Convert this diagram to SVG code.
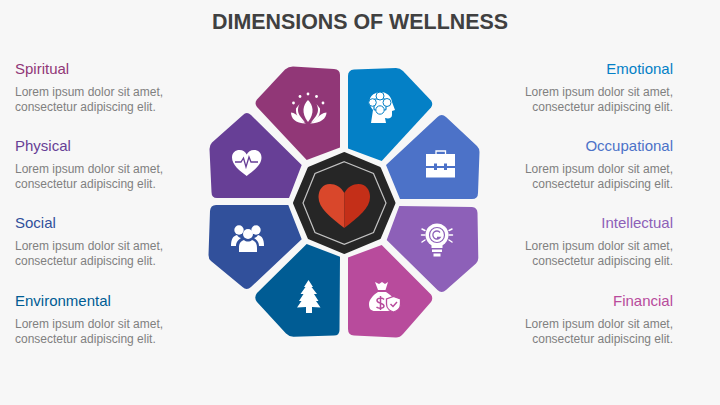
<svg xmlns="http://www.w3.org/2000/svg" width="720" height="405" viewBox="0 0 720 405">
<style>
text{font-family:"Liberation Sans",Arial,sans-serif}
.t{font-size:21.400px;font-weight:700;fill:#404040;text-anchor:middle}
.h{font-size:15px}
.b{font-size:12px;fill:#808080}
.r{text-anchor:end}
.w{fill:#fff}
.l{fill:none;stroke:#fff;stroke-linecap:round}
</style>
<rect width="720" height="405" fill="#f7f7f7"/>
<text class="t" x="360" y="29">DIMENSIONS OF WELLNESS</text>
<g id="connectors"/>
<g id="spiritual">
<path fill="#913777" d="M293 66.500L334 69Q340 69.500 340 75L340 147.500L306.700 160L257 107Q254 103 257 99.500L285 69.500Q288.500 66.500 293 66.500Z"/>
<g class="w"><path d="M308 100C303 105 301 113 308 122C315 113 313 105 308 100Z"/><path d="M299.500 104C297 109 298 113 300 116L305 122.500C298 120 295.500 114 296 108.500Z"/><path d="M316.500 104C319 109 318 113 316 116L311 122.500C318 120 320.500 114 320 108.500Z"/><path d="M291 112.500C291 118 295 123.500 306 123.500C301 122 298 113 291 112.500Z"/><path d="M326.500 112.500C326.500 118 321 123.500 310 123.500C315 122 319 113 326.500 112.500Z"/><circle cx="308" cy="94" r="1.400"/><circle cx="300" cy="96.500" r="1.400"/><circle cx="316.500" cy="96.500" r="1.400"/><circle cx="293.500" cy="103" r="1.400"/><circle cx="323" cy="103" r="1.400"/></g>
<text class="h" x="15" y="74" fill="#913777">Spiritual</text>
<text class="b" x="15" y="96">Lorem ipsum dolor sit amet,</text>
<text class="b" x="15" y="111">consectetur adipiscing elit.</text>
</g>
<g id="physical">
<path fill="#673f96" d="M243 115Q246.700 111 251 115L301.700 165L289 198L217 198Q211.500 198 211.500 192L209.500 149Q209.500 145 212 142.500Z"/>
<path class="w" d="M246.700 176C240 171 232 165 232 157.500C232 152.500 235.500 150 239.500 150C243 150 245.500 152 246.700 154.500C248 152 250.500 150 254 150C258 150 261.500 152.500 261.500 157.500C261.500 165 253.500 171 246.700 176Z"/>
<path fill="none" stroke="#673f96" stroke-width="1.300" d="M235 162H241L243.500 158L246 167L249 157L251 162H258"/>
<text class="h" x="15" y="151" fill="#673f96">Physical</text>
<text class="b" x="15" y="173">Lorem ipsum dolor sit amet,</text>
<text class="b" x="15" y="188">consectetur adipiscing elit.</text>
</g>
<g id="social">
<path fill="#31509b" d="M216 205L288.300 205L301.700 239.300L251 287Q246.700 291 242.500 287L211 261Q208.500 259 208.500 255L210 211Q210.500 205 216 205Z"/>
<g class="w"><circle cx="239" cy="230" r="4.700"/><circle cx="256" cy="230" r="4.700"/><path d="M231 246C231 239 233 236 237 235C238 237 240 238 241 238C237 241 236 243 236 246Z"/><path d="M264 246C264 239 262 236 258 235C257 237 255 238 254 238C258 241 259 243 259 246Z"/><circle cx="248" cy="234" r="5"/><path d="M239 252V248C239 243 241 241 244 240C246 242 250 242 252 240C255 241 257 243 257 248V252Z"/></g>
<text class="h" x="15" y="228" fill="#31509b">Social</text>
<text class="b" x="15" y="250">Lorem ipsum dolor sit amet,</text>
<text class="b" x="15" y="265">consectetur adipiscing elit.</text>
</g>
<g id="environmental">
<path fill="#005c94" d="M306.700 244L340 256.700L339.500 330Q339.500 335.500 334 335.500L294 336.700Q289.500 337 286 333.500L257 302Q253.500 297.500 257 293Z"/>
<path class="w" d="M308.500 280L313 287H311.500L317 294H314L318.500 301H316L320.500 307.500L312 307V313H306V307L297 307.500L301.500 301H299L303.500 294H300.500L305.500 287H304Z"/>
<text class="h" x="15" y="306" fill="#005c94">Environmental</text>
<text class="b" x="15" y="328">Lorem ipsum dolor sit amet,</text>
<text class="b" x="15" y="343">consectetur adipiscing elit.</text>
</g>
<g id="emotional">
<path fill="#0480c6" d="M354 69.500L396 68Q400 68 403 71L431 100.500Q433.500 104 431 107.500L381.700 161L348 148.500L348 76Q348 70 354 69.500Z"/>
<path class="w" d="M371 123L373 110C368 104 368 96 376 93C384 90 391 95 392 102L395 110L392 111V115C392 118 389 119 385 118L386 123Z"/>
<g fill="#fff" stroke="#0480c6" stroke-width="1"><rect x="374" y="99" width="12" height="11" rx="1" fill="none" stroke-width="1.200"/><circle cx="380" cy="96" r="4"/><circle cx="372.500" cy="102.500" r="3.800"/><circle cx="387" cy="102.500" r="4"/><circle cx="380" cy="110" r="4.200"/></g>
<text class="h r" x="673" y="74" fill="#0480c6">Emotional</text>
<text class="b r" x="673" y="96">Lorem ipsum dolor sit amet,</text>
<text class="b r" x="673" y="111">consectetur adipiscing elit.</text>
</g>
<g id="occupational">
<path fill="#4c72c8" d="M437.500 117Q441.700 113 446 117L477 146Q479.500 148.500 479.500 152L478 193Q478 199 472 199L400 199L386 165Z"/>
<path fill="none" stroke="#fff" stroke-width="1.300" d="M436 154V151H445.500V154"/>
<path class="w" d="M426 154H455V166H447V163.500H444V166H437V163.500H434V166H426ZM426 168H434V170H437V168H444V170H447V168H455V177.500H426Z"/>
<text class="h r" x="673" y="151" fill="#4c72c8">Occupational</text>
<text class="b r" x="673" y="173">Lorem ipsum dolor sit amet,</text>
<text class="b r" x="673" y="188">consectetur adipiscing elit.</text>
</g>
<g id="intellectual">
<path fill="#8d60b8" d="M399.300 206L472 207Q477.300 207.500 477.500 213L478.300 258Q478.300 261 476 263.500L446 290Q441.700 294 437.500 290L386.700 240Z"/>
<circle cx="437" cy="235" r="11.500" fill="#fff"/>
<path class="w" d="M431.500 243H442.500V248H431.500ZM432 249.500H442V252H432ZM433.500 253.500H440.500V256.500H433.500Z"/>
<circle cx="437" cy="235" r="7.500" fill="none" stroke="#8d60b8" stroke-width="1.200"/>
<path fill="none" stroke="#8d60b8" stroke-width="1.300" d="M440 232.500A4 4 0 1 0 440 237.500H437"/>
<path class="l" stroke-width="1.500" d="M422 229L425 230.500M421.500 235H425M422 242L425 240M452 229L449 230.500M452.500 235H449M452 242L449 240"/>
<text class="h r" x="673" y="228" fill="#8d60b8">Intellectual</text>
<text class="b r" x="673" y="250">Lorem ipsum dolor sit amet,</text>
<text class="b r" x="673" y="265">consectetur adipiscing elit.</text>
</g>
<g id="financial">
<path fill="#b84b9c" d="M381.700 245L431 294.500Q433.500 298 431 302L403 334Q400 337.500 396 337.500L354 335.500Q348 335 348 329L348 257.500Z"/>
<path class="w" d="M375 282L379 284L382 282L385 284L388 282L385.500 290H378ZM378 292H386C391 295 395 299 395 304C395 309 391 311 386 311H375C371 311 369 309 369 304C369 300 373 295 378 292Z"/>
<path fill="none" stroke="#b84b9c" stroke-width="1.500" d="M384 299.500C382.500 297.500 377 297.500 377 300.500C377 304 384 302.500 384 306C384 308.500 378.500 309 376.500 307M380.500 296V310"/>
<path d="M393.500 296.500L400.500 299V304C400.500 308 397 311 393.500 312C390 311 386.500 308 386.500 304V299Z" fill="#fff" stroke="#b84b9c" stroke-width="1.300"/>
<path fill="none" stroke="#b84b9c" stroke-width="1.500" d="M390.500 304L393 306.500L397 302"/>
<text class="h r" x="673" y="306" fill="#b84b9c">Financial</text>
<text class="b r" x="673" y="328">Lorem ipsum dolor sit amet,</text>
<text class="b r" x="673" y="343">consectetur adipiscing elit.</text>
</g>
<g id="center">
<path fill="#262626" stroke="#262626" stroke-width="4" stroke-linejoin="round" d="M344.300 154L379 168.500L393.500 203L379 237.500L344.300 252L309.500 237.500L295 203L309.500 168.500Z"/>
<path fill="none" stroke="#c4c4c4" stroke-width="1.200" d="M344.300 161.700L373.500 173.500L386 203L373.500 232.500L344.300 244.300L315 232.500L303 203L315 173.500Z"/>
<path fill="#d9472b" d="M344.300 193C341 187 335.500 184 330 184C322.500 184 318.500 190 318.500 197C318.500 208 330 217 344.300 228Z"/>
<path fill="#c42f18" d="M344.300 193C347.500 187 353 184 358.500 184C366 184 370 190 370 197C370 208 358.500 217 344.300 228Z"/>
</g>
</svg>
